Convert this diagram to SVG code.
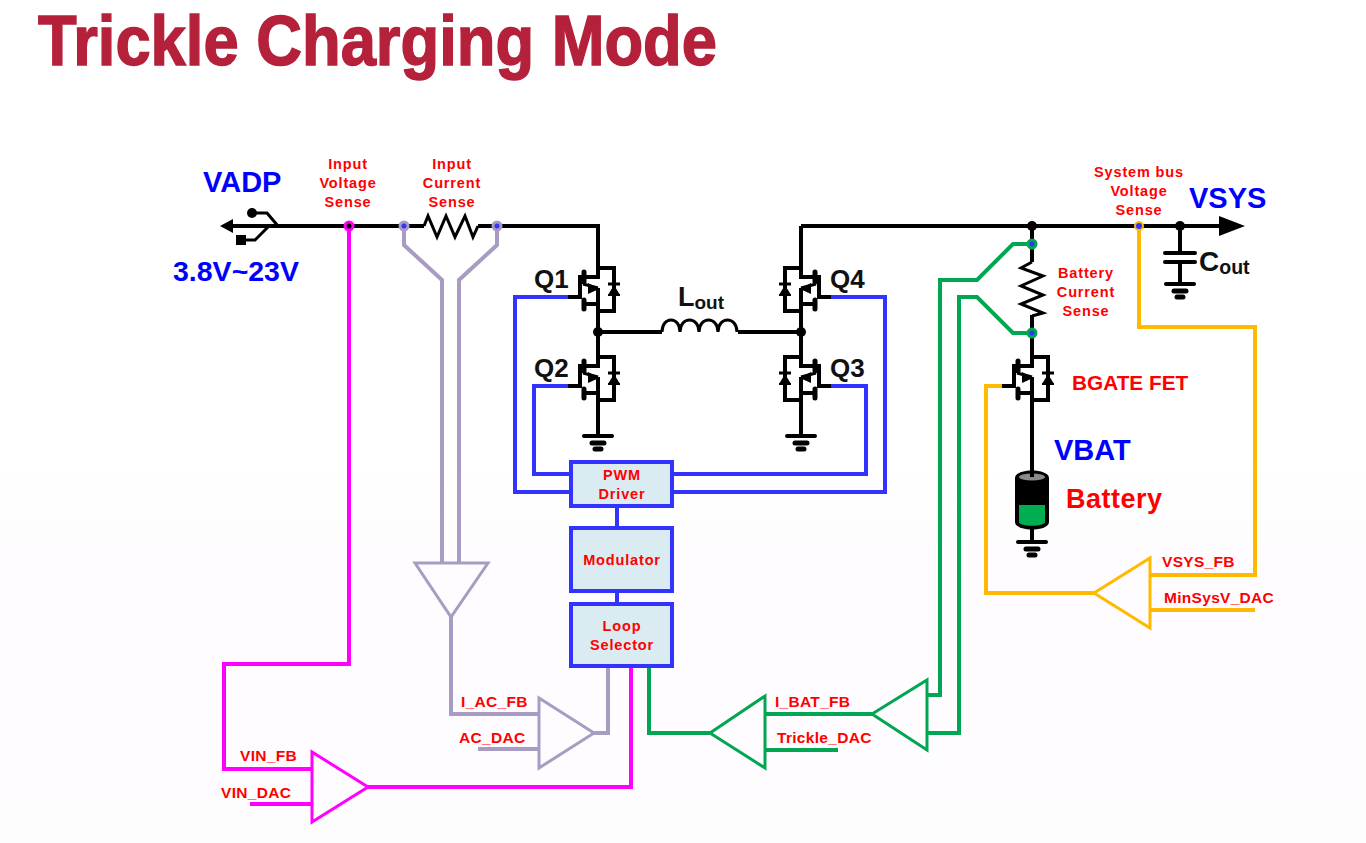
<svg xmlns="http://www.w3.org/2000/svg" width="1366" height="843" viewBox="0 0 1366 843">
<style>
text{font-family:"Liberation Sans",Arial,sans-serif;font-weight:bold}
.r{fill:#ff0000;font-size:14.5px;text-anchor:middle;letter-spacing:.85px}
.s{fill:#ff0000;font-size:15.5px;letter-spacing:.3px}
.b{fill:#0000ff;font-size:29px}
.q{fill:#111;font-size:26px}
.w{fill:none;stroke:#000;stroke-width:4}
.t{fill:none;stroke:#000;stroke-width:3}
.blue{fill:none;stroke:#3333ff;stroke-width:4}
.lil{fill:none;stroke:#a99cc2;stroke-width:4}
.mag{fill:none;stroke:#ff00ff;stroke-width:4}
.grn{fill:none;stroke:#00a651;stroke-width:4}
.org{fill:none;stroke:#ffb900;stroke-width:4}
.box{fill:#daebf2;stroke:#3333ff;stroke-width:4}
</style>
<defs>
<linearGradient id="bg" x1="0" y1="0" x2="0" y2="1"><stop offset=".55" stop-color="#ffffff"/><stop offset=".68" stop-color="#fefcfe"/><stop offset="1" stop-color="#fefdfe"/></linearGradient>
<g id="fet">
<path class="w" d="M0 0V9H-14M0 20V43M-14 36H0M0 0H16V43H0"/>
<path d="M-14 4V14M-14 32V41" fill="none" stroke="#000" stroke-width="5" stroke-linecap="round"/>
<path class="w" d="M-18 7V29H-30"/>
<path d="M-15 16L0 20" class="t"/>
<path d="M1 21L-10 15V26z" fill="#000"/>
<path d="M16 17L10 27H22z" fill="#000"/>
<path d="M10 16H22" stroke="#000" stroke-width="3"/>
<path d="M10 27H22" stroke="#000" stroke-width="2"/>
</g>
<g id="gnd"><path fill="none" stroke="#000" stroke-width="4" stroke-linecap="round" d="M-14 0H14"/><path fill="none" stroke="#000" stroke-width="5" stroke-linecap="round" d="M-6 7H6M-3 13H3"/></g>
</defs>
<rect width="1366" height="843" fill="url(#bg)"/>
<text id="title" x="38" y="65" textLength="679" lengthAdjust="spacingAndGlyphs" style="font-size:71px;fill:#b5213a;stroke:#b5213a;stroke-width:1.5px">Trickle Charging Mode</text>

<g id="connectors">
<path class="w" d="M233 226H424M478 226H598V268M598 311V357M598 400V436M598 332H662M738 332H801M801 226V268M801 311V357M801 400V436M801 226H1222M1032 226V262M1032 315V357M1032 400V473M1032 528V542M1180 226V253M1180 262V284"/>
<path class="t" d="M424 226L428 216L437 237L446 216L455 237L465 216L473 237L478 226M1032 262L1021 268L1043 276L1021 286L1043 295L1021 304L1043 313L1032 316"/>
<path class="t" d="M662 332C662 316 680 316 680 332C680 316 699 316 699 332C699 316 718 316 718 332C718 316 737 316 737 332"/>
<path d="M1245 226L1219 216V236z" fill="#000"/>
<path class="w" stroke-linecap="round" d="M1165 253H1195M1165 262H1195"/>

<path class="blue" d="M570 492H515V297H568M570 474H534V386H568M672 492H885V297H828M672 474H866V386H828M617 506V527M617 591V603"/>
<path class="lil" d="M404 226V245L442 280V563M497 226V245L459 280V563M451 617V714H539M478 749H539M594 733H608V667"/>
<path class="mag" d="M349 226V664H224V769H312M250 804H312M368 787H631V667"/>
<path class="grn" d="M1032 244H1013L977 280H940V695H927M1032 333H1013L977 297H959V733H927M872 714H765M838 750H765M710 733H649V667"/>
<path class="org" d="M1139 226V327H1255V575H1150M1255 610H1150M1094 593H986V386H1002"/>
</g>

<g id="triangles" fill="none" stroke-width="3">
<path d="M415 563H488L451 617z" stroke="#a99cc2"/>
<path d="M539 698V768L594 733z" stroke="#a99cc2"/>
<path d="M312 752V822L368 787z" stroke="#ff00ff"/>
<path d="M765 696V768L710 733z" stroke="#00a651"/>
<path d="M927 680V750L872 714z" stroke="#00a651"/>
<path d="M1150 558V628L1094 593z" stroke="#ffb900"/>
</g>

<g id="usb">
<path d="M220 226L233 219V233z" fill="#000"/>
<path class="t" d="M252 213H267L278 226M246 240H255L268 227"/>
<circle cx="252" cy="213" r="5"/>
<rect x="236" y="235" width="10" height="10"/>
</g>

<g id="Q1"><use href="#fet" x="598" y="268"/></g>
<g id="Q2"><use href="#fet" x="598" y="357"/><use href="#gnd" x="598" y="436"/></g>
<g id="Q4"><use href="#fet" transform="translate(801 268) scale(-1 1)"/></g>
<g id="Q3"><use href="#fet" transform="translate(801 357) scale(-1 1)"/><use href="#gnd" x="801" y="436"/></g>
<g id="BGATE"><use href="#fet" x="1032" y="357"/></g>

<g id="dots">
<circle cx="598" cy="332" r="5"/><circle cx="801" cy="332" r="5"/><circle cx="1032" cy="226" r="5"/><circle cx="1180" cy="226" r="5"/>
<circle cx="349" cy="226" r="4" fill="#000" stroke="#ff00ff" stroke-width="3"/>
<circle cx="404" cy="226" r="4" fill="#3333ff" stroke="#a99cc2" stroke-width="3"/>
<circle cx="497" cy="226" r="4" fill="#3333ff" stroke="#a99cc2" stroke-width="3"/>
<circle cx="1032" cy="244" r="4" fill="#3333ff" stroke="#00a651" stroke-width="3"/>
<circle cx="1032" cy="333" r="4" fill="#3333ff" stroke="#00a651" stroke-width="3"/>
<circle cx="1139" cy="226" r="4" fill="#3333ff" stroke="#ffb900" stroke-width="2"/>
</g>

<g id="cout"><use href="#gnd" x="1180" y="284"/></g>

<g id="battery">
<path d="M1015 478C1015 468 1049 468 1049 478V522C1049 532 1015 532 1015 522z" fill="#000"/>
<ellipse cx="1032" cy="477" rx="13" ry="3.5" fill="#8a8a8a"/>
<path d="M1032 470v7" class="w"/>
<path d="M1019 505H1045V522C1045 527 1019 527 1019 522z" fill="#00ad50"/>
<use href="#gnd" x="1032" y="542"/>
</g>

<g id="pwm"><rect class="box" x="571" y="462" width="101" height="44"/><text class="r" x="622" y="480">PWM</text><text class="r" x="622" y="499">Driver</text></g>
<g id="modulator"><rect class="box" x="571" y="528" width="101" height="63"/><text class="r" x="622" y="565">Modulator</text></g>
<g id="loop"><rect class="box" x="571" y="604" width="101" height="62"/><text class="r" x="622" y="631">Loop</text><text class="r" x="622" y="650">Selector</text></g>

<g id="labels">
<text class="b" x="203" y="192">VADP</text>
<text x="173" y="281" style="font-size:28.5px;fill:#0000ff">3.8V~23V</text>
<text class="b" x="1189" y="208">VSYS</text>
<text class="b" x="1054" y="460">VBAT</text>
<text x="1066" y="508" style="font-size:27px;fill:#ff0000;letter-spacing:.5px">Battery</text>
<text x="1072" y="390" style="font-size:20.8px;fill:#ff0000">BGATE FET</text>
<text class="r" x="348" y="169">Input</text><text class="r" x="348" y="188">Voltage</text><text class="r" x="348" y="207">Sense</text>
<text class="r" x="452" y="169">Input</text><text class="r" x="452" y="188">Current</text><text class="r" x="452" y="207">Sense</text>
<text class="r" x="1139" y="177">System bus</text><text class="r" x="1139" y="196">Voltage</text><text class="r" x="1139" y="215">Sense</text>
<text class="r" x="1086" y="278">Battery</text><text class="r" x="1086" y="297">Current</text><text class="r" x="1086" y="316">Sense</text>
<text class="q" x="534" y="288">Q1</text><text class="q" x="534" y="377">Q2</text><text class="q" x="830" y="288">Q4</text><text class="q" x="830" y="377">Q3</text>
<text class="q" x="678" y="306" style="font-size:27px">L<tspan style="font-size:19px" dy="3">out</tspan></text>
<text class="q" x="1199" y="271" style="font-size:28px">C<tspan style="font-size:19.5px" dy="3">out</tspan></text>
<text class="s" x="461" y="707">I_AC_FB</text>
<text class="s" x="459" y="743">AC_DAC</text>
<text class="s" x="240" y="761">VIN_FB</text>
<text class="s" x="221" y="798">VIN_DAC</text>
<text class="s" x="775" y="707">I_BAT_FB</text>
<text class="s" x="777" y="743">Trickle_DAC</text>
<text class="s" x="1162" y="567">VSYS_FB</text>
<text class="s" x="1164" y="603">MinSysV_DAC</text>
</g>
</svg>
